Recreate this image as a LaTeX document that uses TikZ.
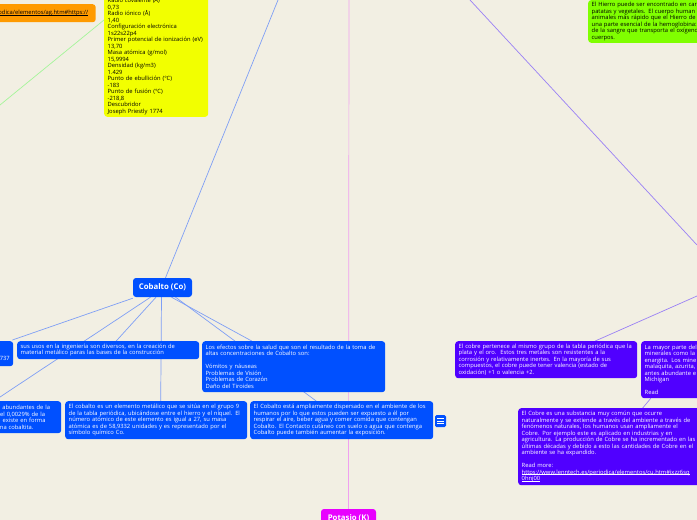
\documentclass[tikz,border=0pt]{standalone}
\usepackage{fontspec}
\setmainfont{Open Sans}
\usetikzlibrary{backgrounds}
\definecolor{paper}{HTML}{F2EFE3}
\definecolor{cblue}{HTML}{0050FF}
\definecolor{cpurple}{HTML}{5000FF}
\definecolor{cyellow}{HTML}{F2FF00}
\definecolor{corange}{HTML}{FF9A00}
\definecolor{clime}{HTML}{80FF00}
\definecolor{cmag}{HTML}{E800FF}
\definecolor{lblue}{HTML}{7F9FF5}
\definecolor{lpurple}{HTML}{9A80F5}
\definecolor{lgreen}{HTML}{A5F59A}
\definecolor{lmag}{HTML}{F0A0F0}
\newcommand{\lnk}[1]{\leavevmode\setbox0\hbox{#1}\rlap{\rule[-0.6pt]{\wd0}{0.35pt}}\box0\relax}
\tikzset{
  mbox/.style={rounded corners=3pt,anchor=north west,align=left,inner xsep=3.5pt,inner ysep=0pt,
    font=\fontsize{5.8}{6.5}\selectfont},
  bluebox/.style={mbox,fill=cblue,text=white},
  purplebox/.style={mbox,fill=cpurple,text=white},
  title/.style={rounded corners=3pt,inner sep=0pt,text=white,font=\fontsize{7.8}{9}\selectfont\bfseries},
  link/.style={line width=0.7pt}
}
\begin{document}
\begin{tikzpicture}[x=1pt,y=-1pt]
\useasboundingbox (0,0) rectangle (697,520);
\clip (0,0) rectangle (697,520);
% nodes
\node[mbox,fill=corange,text=black,text width=103pt,minimum height=18pt,align=right] (orange) at (-14.5,4) {\lnk{odica/elementos/ag.htm\#https://}\hspace*{4pt}};
\node[mbox,fill=cyellow,text=black,anchor=south west,text width=97pt,minimum height=60pt,inner ysep=2.2pt] (yellow) at (104,117) {Radio covalente (Å)\\0,73\\Radio iónico (Å)\\1,40\\Configuración electrónica\\1s22s22p4\\Primer potencial de ionización (eV)\\13,70\\Masa atómica (g/mol)\\15,9994\\Densidad (kg/m3)\\1.429\\Punto de ebullición (°C)\\-183\\Punto de fusión (°C)\\-218,8\\Descubridor\\Joseph Priestly 1774};
\node[mbox,fill=clime,text=black,anchor=south west,text width=140pt,inner ysep=2.2pt] (lime) at (588,43) {El Hierro puede ser encontrado en car\\patatas y vegetales. El cuerpo human\\animales más rápido que el Hierro de\\una parte esencial de la hemoglobina:\\de la sangre que transporta el oxígeno\\cuerpos.};
\node[title,fill=cblue,minimum width=59pt,minimum height=19pt] (cobalto) at (162.5,287.5) {Cobalto (Co)};
\node[title,fill=cmag,minimum width=55pt,minimum height=18pt] (potasio) at (348.5,518) {Potasio (K)};
\node[bluebox,text width=13pt,minimum height=25pt,align=right] (b1) at (-7,341) {\mbox{}\\\mbox{}\\737};
\node[bluebox,text width=175pt,minimum height=18pt] (b2) at (17,341) {sus usos en la ingeniería son diversos, en la creación de\\material metálico paras las bases de la construcción};
\node[bluebox,text width=176pt,minimum height=51pt] (b3) at (202,341) {Los efectos sobre la salud que son el resultado de la toma de\\altas concentraciones de Cobalto son:\\[6.5pt]Vómitos y náuseas\\Problemas de Visión\\Problemas de Corazón\\Daño del Tiroides};
\node[bluebox,text width=61pt,minimum height=32pt] (b4) at (-7,401) {\hspace*{1pt}s abundantes de la\\\hspace*{-2pt}n el 0,0029\% de la\\\hspace*{6pt}existe en forma\\\hspace*{0pt}ena cobaltita.};
\node[bluebox,text width=175pt,minimum height=38pt] (b5) at (65,401) {El cobalto es un elemento metálico que se sitúa en el grupo 9\\de la tabla periódica, ubicándose entre el hierro y el níquel. El\\número atómico de este elemento es igual a 27, su masa\\atómica es de 58,9332 unidades y es representado por el\\símbolo químico Co.};
\node[bluebox,text width=176pt,minimum height=38pt] (b6) at (250,401) {El Cobalto está ampliamente dispersado en el ambiente de los\\humanos por lo que estos pueden ser expuesto a él por\\respirar el aire, beber agua y comer comida que contengan\\Cobalto. El Contacto cutáneo con suelo o agua que contenga\\Cobalto puede también aumentar la exposición.};
\node[rounded corners=1.5pt,fill=cblue,minimum width=11pt,minimum height=12pt,inner sep=0pt] (icon) at (440.5,421) {};
\draw[white,line width=0.7pt] ([xshift=-3.5pt,yshift=-2.5pt]icon.center) -- ([xshift=3.5pt,yshift=-2.5pt]icon.center)
  ([xshift=-3.5pt]icon.center) -- ([xshift=3.5pt]icon.center)
  ([xshift=-3.5pt,yshift=2.5pt]icon.center) -- ([xshift=3.5pt,yshift=2.5pt]icon.center);
\node[purplebox,text width=175pt,minimum height=37pt] (p1) at (455,341) {El cobre pertenece al mismo grupo de la tabla periódica que la\\plata y el oro.\ \ Estos tres metales son resistentes a la\\corrosión y relativamente inertes. En la mayoría de sus\\compuestos, el cobre puede tener valencia (estado de\\oxidación) +1 o valencia +2.};
\node[purplebox,text width=100pt,minimum height=57pt] (p2) at (641,341) {La mayor parte del\\minerales como la\\enargita. Los mine\\malaquita, azurita,\\antes abundante e\\Michigan\\[6.5pt]Read};
\node[purplebox,text width=190pt,minimum height=77pt] (p3) at (518,408) {El Cobre es una substancia muy común que ocurre\\naturalmente y se extiende a través del ambiente a través de\\fenómenos naturales, los humanos usan ampliamente el\\Cobre. Por ejemplo este es aplicado en industrias y en\\agricultura. La producción de Cobre se ha incrementado en las\\últimas décadas y debido a esto las cantidades de Cobre en el\\ambiente se ha expandido.\\[6.5pt]Read more:\\\lnk{https://www.lenntech.es/periodica/elementos/cu.htm\#ixzz6sq}\\\lnk{0hnj00}};
% free ends
\coordinate (topblue) at (278,0);
\coordinate (topmag) at (349,0);
\coordinate (toppurple) at (470,0);
\coordinate (rightpa) at (697,245);
\coordinate (rightpb) at (697,296);
\coordinate (leftgreen) at (0,105);
\coordinate (yellowlink) at (104,20);
\coordinate (bfour) at (0,397);
\begin{scope}[on background layer]
\fill[paper] (0,0) rectangle (697,520);
\draw[link,lblue] ([xshift=3pt]cobalto.north) -- (topblue);
\draw[link,lblue] ([yshift=-1pt]cobalto.south west) -- ([yshift=1pt,xshift=-1pt]b1.north east);
\draw[link,lblue] ([xshift=-6.5pt]cobalto.south) -- ([xshift=8pt]b2.north);
\draw[link,lblue] ([xshift=-12pt]cobalto.south) -- (bfour);
\draw[link,lblue] ([xshift=-1pt]cobalto.south) -- ([xshift=4.5pt]b5.north);
\draw[link,lblue] ([xshift=9pt]cobalto.south) -- ([xshift=-42pt]b3.north);
\draw[link,lblue] ([xshift=13pt]cobalto.south) -- ([xshift=-25.5pt]b6.north);
\draw[link,lmag] (potasio.north) -- (topmag);
\draw[link,lgreen] (yellowlink) -- (leftgreen);
\draw[link,lpurple] (toppurple) -- (rightpa);
\draw[link,lpurple] (rightpb) -- ([xshift=49pt]p1.north);
\draw[link,lpurple] ([xshift=-44pt]p2.south) -- ([xshift=26pt]p3.north);
\end{scope}
\end{tikzpicture}
\end{document}
